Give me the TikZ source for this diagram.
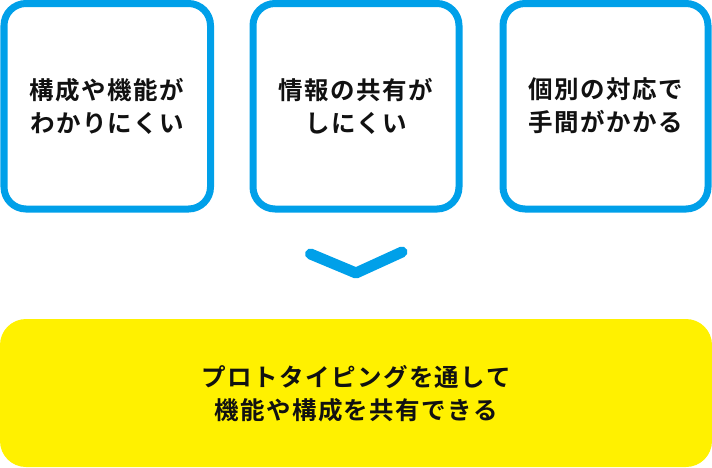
\documentclass[tikz,border=0pt]{standalone}
\usepackage{fontspec}
\newfontfamily\jpfont[LetterSpace=6]{Noto Sans CJK JP Bold}
\definecolor{boxblue}{HTML}{00A0E9}
\definecolor{boxyellow}{HTML}{FFF100}
\definecolor{txt}{HTML}{111111}
\begin{document}
\begin{tikzpicture}[x=1pt,y=-1pt,
  topbox/.style={draw=boxblue,line width=7pt,rounded corners=22pt,fill=white},
  lbl/.style={font=\jpfont\fontsize{24.5pt}{33pt}\selectfont,text=txt,align=center,inner sep=0pt},
  chev/.style={draw=boxblue,line width=11pt,line cap=round,line join=round}]
\useasboundingbox (0,0) rectangle (712,467);
\draw[topbox] (4,3.5) rectangle (210.5,209);
\draw[topbox] (253,3.5) rectangle (459,209);
\draw[topbox] (503,3.5) rectangle (708,209);
\node[lbl] (t1) at (107,106) {構成や機能が\\わかりにくい};
\node[lbl] (t2) at (356,106) {情報の共有が\\しにくい};
\node[lbl] (t3) at (605.5,106) {個別の対応で\\手間がかかる};
\coordinate (c1) at (310.5,254);
\coordinate (c2) at (356,273);
\coordinate (c3) at (402,252);
\draw[chev] (c1) -- (c2) -- (c3);
\fill[boxyellow,rounded corners=26pt] (0,319) rectangle (712,467);
\node[lbl] (t4) at (356,394) {プロトタイピングを通して\\機能や構成を共有できる};
\end{tikzpicture}
\end{document}
